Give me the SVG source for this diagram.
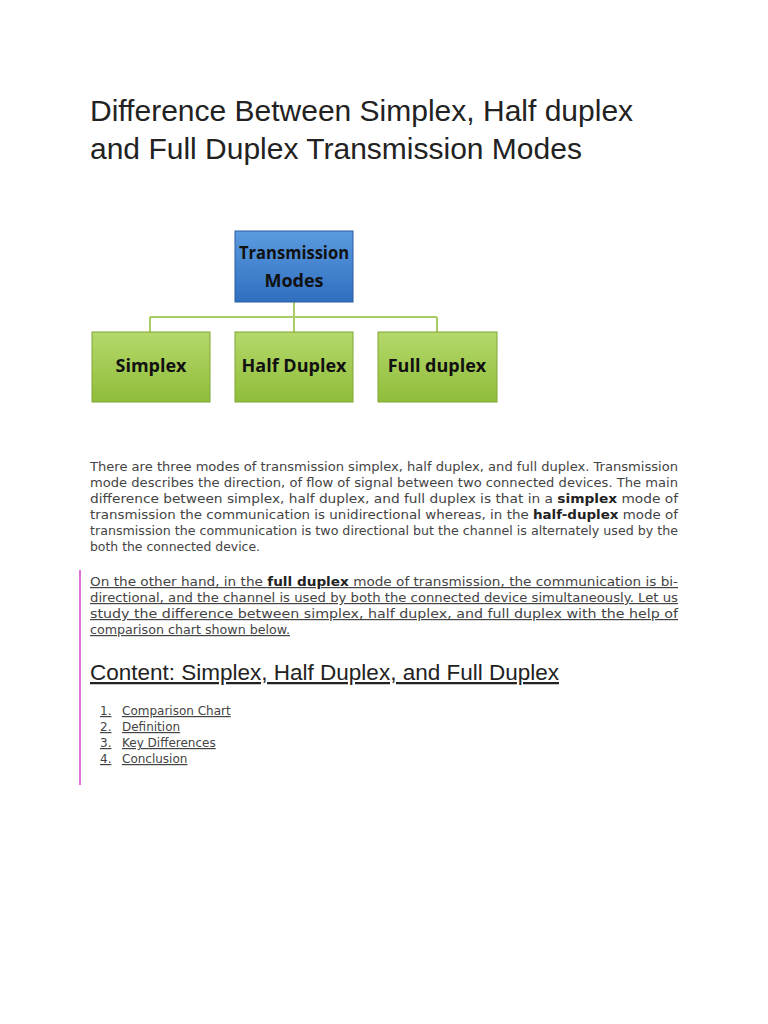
<svg xmlns="http://www.w3.org/2000/svg" width="768" height="1024" viewBox="0 0 768 1024">
<defs>
<linearGradient id="gb" x1="0" y1="0" x2="0" y2="1"><stop offset="0" stop-color="#5b9be0"/><stop offset="1" stop-color="#2f6fbf"/></linearGradient>
<linearGradient id="gg" x1="0" y1="0" x2="0" y2="1"><stop offset="0" stop-color="#b5d86a"/><stop offset="1" stop-color="#8fbd3a"/></linearGradient>
</defs>
<style>
.t{font-family:"Liberation Sans",Arial,sans-serif;fill:#222}
.p{font-family:"DejaVu Sans",Verdana,sans-serif;font-size:12px;fill:#444}
.u{text-decoration:underline}
.b{font-weight:bold;fill:#222}
.n{font-family:"Open Sans","DejaVu Sans",sans-serif;font-weight:bold;font-size:18px;fill:#111;text-anchor:middle}
.l{fill:none;stroke:#a9cc66;stroke-width:2}
</style>
<rect width="768" height="1024" fill="#fff"/>
<text class="t" font-size="30"><tspan x="90" y="121">Difference Between Simplex, Half duplex</tspan><tspan x="90" y="159">and Full Duplex Transmission Modes</tspan></text>
<g id="connectors">
<path class="l" d="M294 302V317M150 317H437M150 317V332M294 317V332M437 317V332"/>
</g>
<g id="root"><rect x="235" y="231" width="118" height="71" fill="url(#gb)" stroke="#2a5c9e"/><text class="n" textLength="110" lengthAdjust="spacingAndGlyphs" x="294" y="259">Transmission</text><text class="n" x="294" y="287">Modes</text></g>
<g id="simplex"><rect x="92" y="332" width="118" height="70" fill="url(#gg)" stroke="#7fa535"/><text class="n" x="151" y="372">Simplex</text></g>
<g id="half"><rect x="235" y="332" width="118" height="70" fill="url(#gg)" stroke="#7fa535"/><text class="n" x="294" y="372">Half Duplex</text></g>
<g id="full"><rect x="378" y="332" width="119" height="70" fill="url(#gg)" stroke="#7fa535"/><text class="n" x="437" y="372">Full duplex</text></g>
<text class="p" x="90" y="471" textLength="588" lengthAdjust="spacingAndGlyphs">There are three modes of transmission simplex, half duplex, and full duplex. Transmission</text>
<text class="p" x="90" y="487" textLength="588" lengthAdjust="spacingAndGlyphs">mode describes the direction, of flow of signal between two connected devices. The main</text>
<text class="p" x="90" y="503" textLength="588" lengthAdjust="spacingAndGlyphs">difference between simplex, half duplex, and full duplex is that in a <tspan class="b">simplex</tspan> mode of</text>
<text class="p" x="90" y="519" textLength="588" lengthAdjust="spacingAndGlyphs">transmission the communication is unidirectional whereas, in the <tspan class="b">half-duplex</tspan> mode of</text>
<text class="p" x="90" y="535" textLength="588" lengthAdjust="spacingAndGlyphs">transmission the communication is two directional but the channel is alternately used by the</text>
<text class="p" x="90" y="551" textLength="170" lengthAdjust="spacingAndGlyphs">both the connected device.</text>
<rect x="79" y="570" width="2" height="215" fill="#e070e0"/>
<text class="p u" x="90" y="586" textLength="588" lengthAdjust="spacingAndGlyphs">On the other hand, in the <tspan class="b">full duplex</tspan> mode of transmission, the communication is bi-</text>
<text class="p u" x="90" y="602" textLength="588" lengthAdjust="spacingAndGlyphs">directional, and the channel is used by both the connected device simultaneously. Let us</text>
<text class="p u" x="90" y="618" textLength="588" lengthAdjust="spacingAndGlyphs">study the difference between simplex, half duplex, and full duplex with the help of</text>
<text class="p u" x="90" y="634" textLength="200" lengthAdjust="spacingAndGlyphs">comparison chart shown below.</text>
<text class="t u" font-size="22.5" x="90" y="680">Content: Simplex, Half Duplex, and Full Duplex</text>
<g class="p u">
<text x="100" y="715">1.<tspan x="122">Comparison Chart</tspan></text>
<text x="100" y="731">2.<tspan x="122">Definition</tspan></text>
<text x="100" y="747">3.<tspan x="122">Key Differences</tspan></text>
<text x="100" y="763">4.<tspan x="122">Conclusion</tspan></text>
</g>
</svg>
